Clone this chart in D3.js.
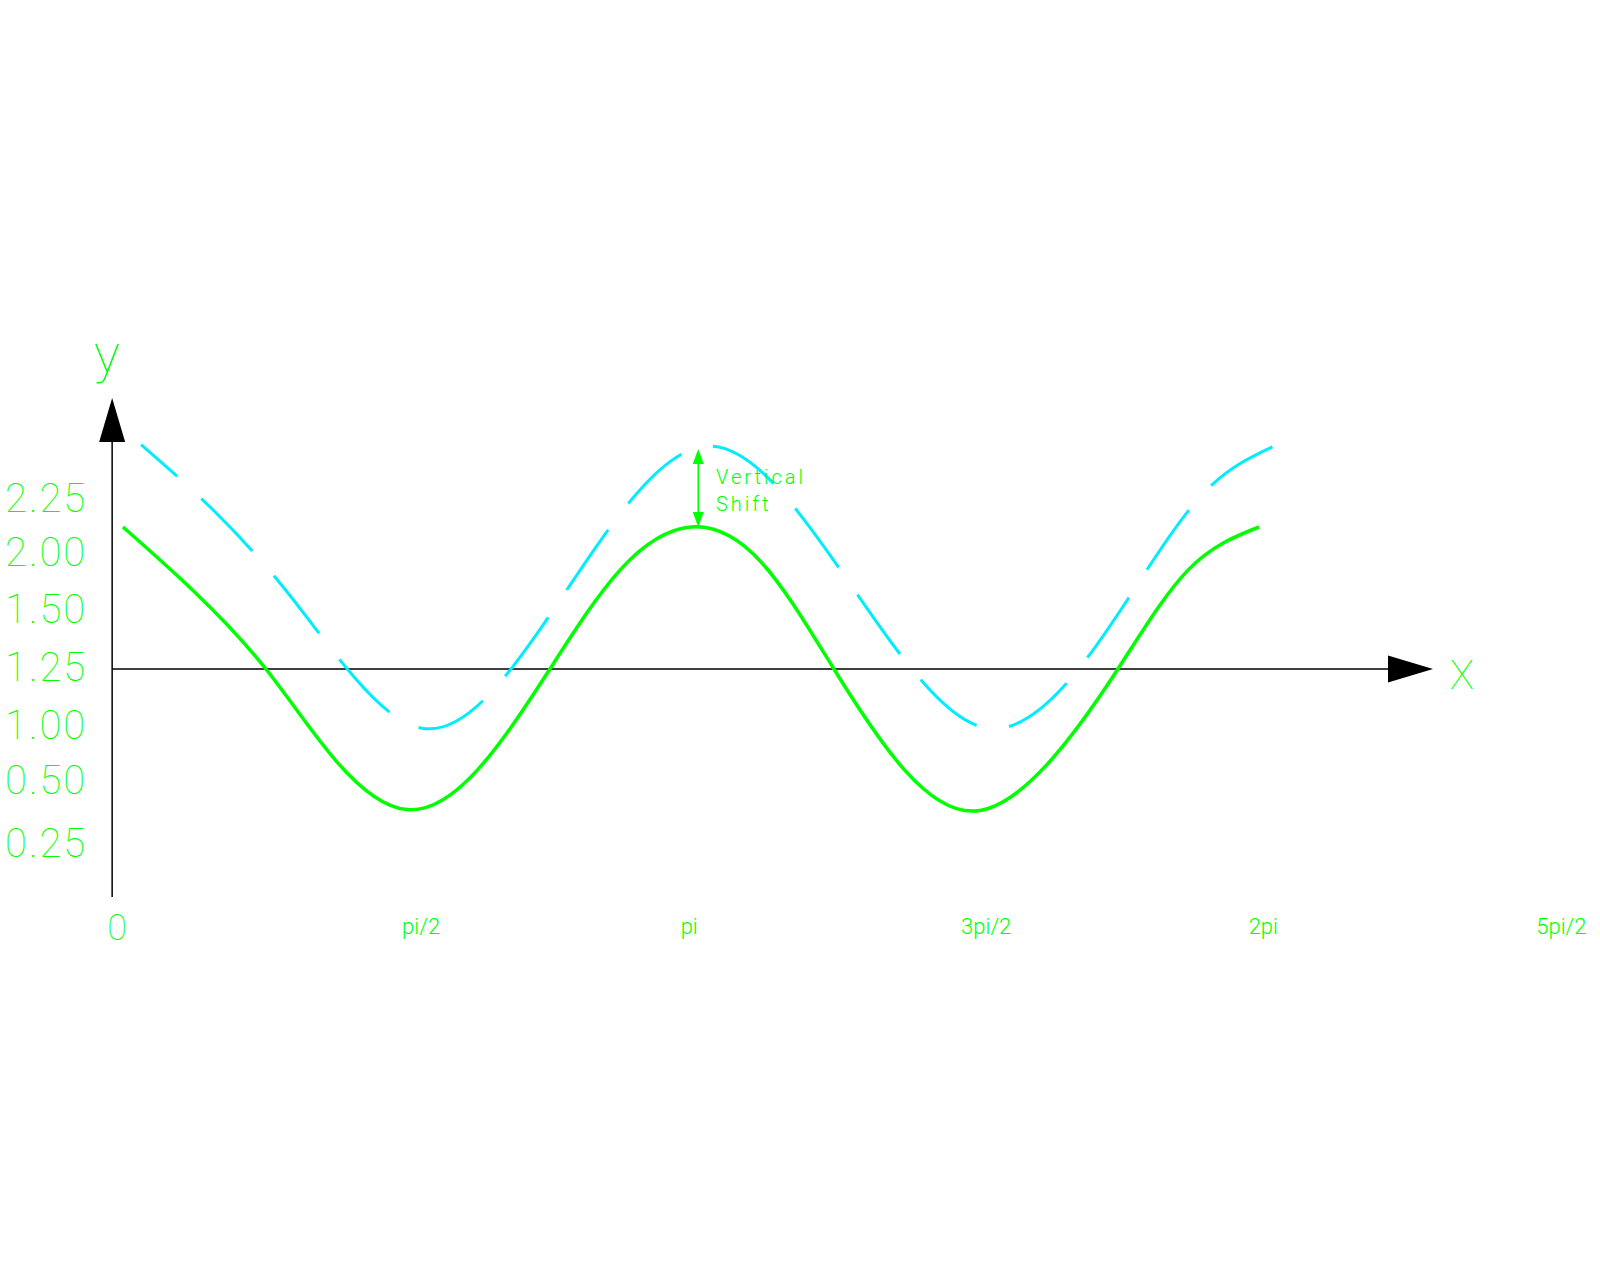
<!DOCTYPE html>
<html>
<head>
<meta charset="utf-8">
<script src="https://cdn.jsdelivr.net/npm/d3@7"></script>
<style>
  body { margin: 0; background: #fff; }
  #graf text { font-family: Roboto, 'DejaVu Sans', sans-serif; font-weight: 100; fill: #00ff00; }
  #graf text.chico { font-weight: 300; }
</style>
</head>
<body>
<div id="graf"></div>
<script>
// x in radians, y in units of the amplitude
const xBase = [0, 0.39, 0.79, 1.18, 1.57, 1.96, 2.36, 2.75, 3.14, 3.53, 3.93, 4.32, 4.71, 5.11, 5.50, 5.89, 6.28]
const baseValues = [1.00, 0.55, 0.00, -0.65, -0.99, -0.71, 0.00, 0.70, 1.00, 0.75, 0.00, -0.71, -1.00, -0.67, 0.00, 0.70, 1.00]

const xShifted = [0.10, 0.49, 0.89, 1.28, 1.67, 2.06, 2.46, 2.85, 3.24, 3.63, 4.03, 4.42, 4.81, 5.21, 5.60, 5.99, 6.38]
const shiftedValues = [1.58, 1.13, 0.57, -0.06, -0.42, -0.13, 0.57, 1.25, 1.57, 1.26, 0.58, -0.09, -0.42, -0.11, 0.58, 1.26, 1.58]

const xTickLabels = ['0', 'pi/2', 'pi', '3pi/2', '2pi', '5pi/2']
const xTickPos = [-0.09, 1.54, 3.08, 4.63, 6.22, 7.81]

const yTickLabels = ['2.25', '2.00', '1.50', '1.25', '1.00', '0.50', '0.25']
const yTickPos = [1.11, 0.73, 0.33, -0.08, -0.49, -0.88, -1.32]

const ancho = 1600
const alto = 1280

const svg = d3.select('#graf').append('svg')
    .attr('width', ancho)
    .attr('height', alto)

const x = d3.scaleLinear().domain([0, 6.28]).range([123, 1259])
const y = d3.scaleLinear().domain([-1, 1]).range([811, 527])

const x0 = x(-0.06)
const y0 = y(0)

// ejes
svg.append('line')
    .attr('x1', x0).attr('y1', 897).attr('x2', x0).attr('y2', 442)
    .attr('stroke', '#000').attr('stroke-width', 1.5)
svg.append('path')
    .attr('d', `M${x0},398 L${x0 + 13},442 L${x0 - 13},442 Z`)
    .attr('fill', '#000')

svg.append('line')
    .attr('x1', x0).attr('y1', y0).attr('x2', 1388).attr('y2', y0)
    .attr('stroke', '#000').attr('stroke-width', 1.5)
svg.append('path')
    .attr('d', `M1433,${y0} L1388,${y0 - 13.5} L1388,${y0 + 13.5} Z`)
    .attr('fill', '#000')

svg.append('text').attr('x', 94).attr('y', 372)
    .style('font-size', '54px').text('y')
svg.append('text').attr('x', 1450).attr('y', 689)
    .style('font-size', '40px').text('X')

// etiquetas del eje y
const yAxis = svg.append('g')
    .call(d3.axisLeft(y).tickValues(yTickPos).tickFormat((d, i) => yTickLabels[i]).tickSize(0))
yAxis.select('.domain').remove()
yAxis.selectAll('text')
    .attr('x', 5).attr('dy', 0)
    .attr('text-anchor', 'start')
    .style('font-size', '40px')
    .style('letter-spacing', '2px')

// etiquetas del eje x
const xAxis = svg.append('g')
    .attr('transform', 'translate(0,934)')
    .call(d3.axisBottom(x).tickValues(xTickPos).tickFormat((d, i) => xTickLabels[i]).tickSize(0))
xAxis.select('.domain').remove()
xAxis.selectAll('text')
    .attr('y', 0).attr('dy', 0)
    .attr('text-anchor', 'start')
    .attr('class', (d, i) => i === 0 ? null : 'chico')
    .style('font-size', (d, i) => i === 0 ? '36px' : '22px')
    .attr('transform', (d, i) => i === 0 ? 'translate(0,6)' : null)

const linea = d3.line()
    .x(d => x(d[0]))
    .y(d => y(d[1]))
    .curve(d3.curveNatural)

svg.append('path')
    .datum(d3.zip(xShifted, shiftedValues))
    .attr('d', linea)
    .attr('fill', 'none')
    .attr('stroke', '#00ecff')
    .attr('stroke-width', 3)
    .attr('stroke-dasharray', '73 33')
    .attr('stroke-dashoffset', 25)

svg.append('path')
    .datum(d3.zip(xBase, baseValues))
    .attr('d', linea)
    .attr('fill', 'none')
    .attr('stroke', '#00ff00')
    .attr('stroke-width', 3.5)

// flecha del desplazamiento vertical
const ax = x(3.18)
const aTop = y(1.55)
const aBot = y(1)
svg.append('line')
    .attr('x1', ax).attr('y1', aTop + 14).attr('x2', ax).attr('y2', aBot - 14)
    .attr('stroke', '#00ff00').attr('stroke-width', 1.5)
svg.append('path')
    .attr('d', `M${ax},${aTop} L${ax + 5.5},${aTop + 15} L${ax - 5.5},${aTop + 15} Z`)
    .attr('fill', '#00ff00')
svg.append('path')
    .attr('d', `M${ax},${aBot} L${ax + 5.5},${aBot - 15} L${ax - 5.5},${aBot - 15} Z`)
    .attr('fill', '#00ff00')

svg.append('text').attr('class', 'chico').attr('x', 716).attr('y', 484)
    .style('font-size', '20px').style('letter-spacing', '3px').text('Vertical')
svg.append('text').attr('class', 'chico').attr('x', 716).attr('y', 511)
    .style('font-size', '20px').style('letter-spacing', '3px').text('Shift')
</script>
</body>
</html>
